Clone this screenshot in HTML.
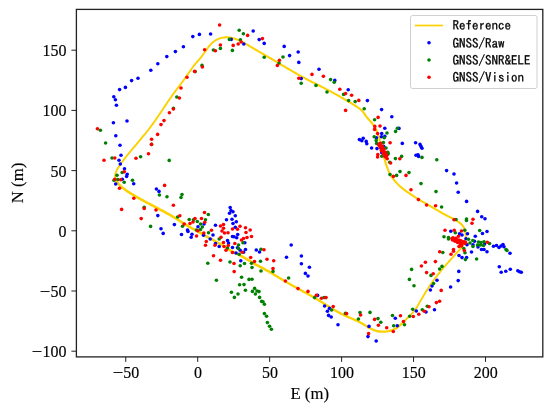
<!DOCTYPE html>
<html lang="en"><head><meta charset="utf-8"><title>GNSS trajectory plot</title>
<style>html,body{margin:0;padding:0;background:#fff}svg{display:block}</style>
</head><body>
<svg width="550" height="411" viewBox="0 0 550 411">
<rect width="550" height="411" fill="#fff"/>
<path d="M226.0 37.3 L223.8 37.5 L221.6 37.9 L219.4 38.5 L217.3 39.4 L215.4 40.5 L213.5 41.8 L211.8 43.2 L210.3 44.8 L208.8 46.5 L207.5 48.3 L206.2 50.2 L204.9 52.0 L203.6 53.8 L202.3 55.7 L201.0 57.4 L199.5 59.1 L198.0 60.8 L196.5 62.5 L195.1 64.2 L193.7 65.9 L192.4 67.7 L191.1 69.5 L189.8 71.4 L188.5 73.2 L187.2 75.1 L186.0 76.9 L184.7 78.7 L183.4 80.5 L182.0 82.3 L180.7 84.1 L179.3 85.9 L178.0 87.7 L176.6 89.5 L175.3 91.2 L174.0 93.0 L172.6 94.9 L171.4 96.7 L170.1 98.5 L168.8 100.4 L167.5 102.2 L166.3 104.1 L165.1 105.9 L163.8 107.8 L162.6 109.7 L161.3 111.5 L160.1 113.4 L158.8 115.2 L157.6 117.1 L156.3 118.9 L155.0 120.8 L153.7 122.6 L152.4 124.4 L151.1 126.2 L149.7 128.0 L148.4 129.8 L147.0 131.5 L145.6 133.3 L144.2 135.0 L142.7 136.7 L141.3 138.4 L139.9 140.2 L138.4 141.9 L137.0 143.6 L135.6 145.3 L134.1 147.0 L132.7 148.7 L131.2 150.5 L129.8 152.2 L128.4 153.9 L127.0 155.7 L125.6 157.4 L124.2 159.2 L122.9 161.0 L121.6 162.8 L120.3 164.6 L119.0 166.4 L117.8 168.3 L116.7 170.3 L115.8 172.4 L115.3 174.5 L115.2 176.8 L115.7 179.0 L116.5 181.0" fill="none" stroke="#fbd200" stroke-width="1.9" stroke-linejoin="round" stroke-linecap="round"/>
<path d="M116.5 181.0 L117.5 182.6 L118.7 184.1 L120.0 185.5 L121.5 186.9 L123.0 188.1 L124.6 189.3 L126.3 190.5 L127.9 191.6 L129.5 192.6 L131.2 193.7 L132.8 194.7 L134.4 195.7 L136.1 196.6 L137.8 197.6 L139.5 198.5 L141.2 199.5 L142.9 200.4 L144.6 201.3 L146.3 202.3 L148.0 203.2 L149.8 204.1 L151.5 205.0 L153.2 205.9 L155.0 206.8 L156.7 207.7 L158.4 208.6 L160.1 209.6 L161.9 210.5 L163.6 211.4 L165.3 212.3 L167.0 213.3 L168.7 214.2 L170.3 215.2 L172.0 216.2 L173.7 217.2 L175.3 218.2 L177.0 219.2 L178.6 220.2 L180.3 221.3 L181.9 222.3 L183.6 223.4 L185.3 224.4 L186.9 225.4 L188.6 226.4 L190.3 227.3 L192.0 228.3 L193.7 229.2 L195.4 230.1 L197.1 231.1 L198.8 232.0 L200.5 232.9 L202.2 233.9 L203.9 234.9 L205.6 235.8 L207.3 236.8 L209.0 237.8 L210.7 238.7 L212.4 239.7 L214.1 240.6 L215.8 241.6 L217.5 242.5 L219.2 243.5 L220.9 244.4 L222.6 245.4 L224.2 246.4 L225.9 247.5 L227.5 248.6 L229.1 249.7 L230.7 250.7 L232.4 251.7 L234.2 252.5 L235.9 253.4 L237.7 254.2 L239.4 255.1 L241.2 256.0 L242.9 256.9 L244.6 257.9 L246.2 258.9 L247.9 259.9 L249.6 260.9 L251.2 261.9 L252.9 262.8 L254.6 263.8 L256.3 264.8 L258.0 265.7 L259.7 266.6 L261.5 267.5 L263.2 268.4 L264.9 269.3 L266.6 270.3 L268.3 271.2 L270.0 272.2" fill="none" stroke="#fbd200" stroke-width="2.55" stroke-linejoin="round" stroke-linecap="round"/>
<path d="M270.0 272.2 L271.5 273.1 L273.0 274.0 L274.5 274.9 L276.0 275.8 L277.5 276.7 L278.9 277.6 L280.4 278.5 L281.9 279.4 L283.4 280.3 L284.9 281.2 L286.4 282.1 L287.9 283.0 L289.4 283.8 L290.9 284.7 L292.4 285.6 L293.9 286.4 L295.5 287.2 L297.0 288.1 L298.5 288.9 L300.1 289.7 L301.6 290.6 L303.1 291.4 L304.6 292.2 L306.2 293.1 L307.7 293.9 L309.2 294.8 L310.7 295.6 L312.2 296.5 L313.7 297.4 L315.2 298.2 L316.7 299.1 L318.2 300.0 L319.7 300.9 L321.2 301.8 L322.6 302.8 L324.1 303.7 L325.6 304.6 L327.1 305.5 L328.5 306.4 L330.0 307.4 L331.5 308.3 L333.0 309.2 L334.5 310.1 L336.0 310.9 L337.5 311.8 L339.0 312.6 L340.6 313.4 L342.1 314.2 L343.7 315.0 L345.2 315.7 L346.8 316.4 L348.4 317.1 L350.0 317.8 L351.6 318.5 L353.3 319.2 L354.9 319.9 L356.4 320.6 L358.0 321.3 L359.6 322.1 L361.1 323.0 L362.6 323.8 L364.1 324.7 L365.5 325.6 L367.0 326.5 L368.5 327.4 L370.1 328.3 L371.6 329.0 L373.2 329.8 L374.8 330.4 L376.5 330.9 L378.1 331.3 L379.9 331.5 L381.6 331.7 L383.4 331.7 L385.1 331.6 L386.9 331.4 L388.6 331.1 L390.3 330.6 L391.9 330.1 L393.5 329.5 L395.1 328.7 L396.6 327.9 L398.0 326.9 L399.4 325.9 L400.7 324.7 L402.0 323.5" fill="none" stroke="#fbd200" stroke-width="2.3" stroke-linejoin="round" stroke-linecap="round"/>
<path d="M402.0 323.5 L403.4 322.2 L404.7 320.8 L406.0 319.5 L407.3 318.2 L408.6 316.8 L410.0 315.5 L411.3 314.2 L412.6 312.8 L413.8 311.4 L415.0 309.9 L416.1 308.4 L417.1 306.8 L418.0 305.2 L418.9 303.6 L419.9 301.9 L420.8 300.3 L421.8 298.7 L422.7 297.1 L423.7 295.4 L424.7 293.8 L425.6 292.2 L426.6 290.6 L427.7 289.1 L428.7 287.5 L429.7 285.9 L430.8 284.4 L431.9 282.8 L432.9 281.3 L434.0 279.8 L435.2 278.2 L436.3 276.7 L437.4 275.2 L438.6 273.8 L439.8 272.3 L440.9 270.8 L442.1 269.4 L443.3 267.9 L444.6 266.5 L445.8 265.1 L447.0 263.7 L448.3 262.3 L449.5 260.9 L450.8 259.5 L452.0 258.1 L453.3 256.7 L454.6 255.4 L455.8 254.0 L457.1 252.6 L458.4 251.1 L459.7 249.7 L460.9 248.3 L462.0 246.7 L463.1 245.2 L464.0 243.6 L464.7 241.9 L465.3 240.1 L465.6 238.3 L465.8 236.4 L465.7 234.5" fill="none" stroke="#fbd200" stroke-width="1.9" stroke-linejoin="round" stroke-linecap="round"/>
<path d="M465.7 234.5 L465.5 232.7 L465.1 231.0 L464.6 229.2 L463.9 227.6 L462.9 226.1 L461.8 224.7 L460.5 223.5 L459.1 222.4 L457.7 221.4 L456.1 220.5 L454.6 219.6 L453.0 218.7 L451.5 217.9 L449.9 217.1 L448.3 216.3 L446.7 215.5 L445.1 214.7 L443.5 213.8 L441.9 212.9 L440.4 212.0 L438.8 211.1 L437.3 210.2 L435.7 209.3 L434.2 208.4 L432.7 207.5 L431.1 206.6 L429.6 205.7 L428.0 204.9 L426.5 204.0 L425.0 203.1 L423.4 202.2 L421.9 201.3 L420.4 200.3 L418.8 199.4 L417.3 198.5 L415.8 197.6 L414.3 196.6 L412.8 195.6 L411.3 194.7 L409.8 193.7 L408.3 192.7 L406.8 191.6 L405.4 190.6 L403.9 189.5 L402.5 188.4 L401.1 187.2 L399.8 186.1 L398.5 184.9 L397.2 183.6 L396.0 182.3 L394.8 181.0 L393.7 179.6 L392.6 178.2 L391.7 176.7 L390.7 175.2 L389.9 173.7 L389.1 172.1 L388.3 170.4 L387.6 168.7 L387.0 167.1 L386.4 165.4 L385.8 163.6 L385.3 161.9 L384.8 160.2 L384.3 158.5 L383.8 156.8 L383.4 155.1 L382.9 153.4 L382.5 151.6 L382.1 149.9 L381.7 148.2 L381.3 146.4 L380.9 144.7 L380.5 142.9 L380.0 141.2 L379.6 139.5 L379.1 137.7 L378.6 136.0 L378.0 134.3 L377.4 132.6 L376.7 131.0 L376.0 129.4 L375.2 127.8 L374.3 126.3 L373.3 124.8 L372.2 123.4 L371.1 122.0 L369.9 120.7 L368.6 119.4 L367.5 118.0 L366.3 116.6 L365.3 115.1 L364.3 113.6 L363.2 112.2 L362.1 110.8 L360.8 109.6 L359.4 108.5 L358.0 107.5 L356.5 106.5 L355.0 105.6 L353.4 104.6 L351.9 103.7 L350.4 102.7 L348.8 101.8 L347.3 100.9 L345.8 100.0 L344.2 99.1 L342.7 98.2 L341.1 97.3 L339.6 96.4 L338.0 95.5 L336.5 94.7 L334.9 93.8 L333.3 92.9 L331.8 92.1 L330.2 91.2 L328.6 90.4 L327.0 89.6 L325.5 88.8 L323.9 87.9 L322.3 87.1 L320.7 86.3 L319.1 85.5 L317.5 84.7 L315.9 83.9 L314.3 83.1 L312.7 82.3 L311.1 81.5 L309.5 80.7 L307.9 79.8 L306.4 79.0 L304.8 78.2 L303.2 77.3 L301.6 76.5 L300.1 75.6 L298.5 74.8 L296.9 73.9 L295.4 73.0 L293.8 72.1 L292.3 71.2 L290.8 70.3 L289.2 69.4 L287.7 68.5 L286.1 67.6 L284.6 66.7 L283.1 65.8 L281.5 64.8 L280.0 63.9 L278.5 63.0 L276.9 62.1 L275.4 61.2 L273.9 60.3 L272.3 59.4 L270.8 58.5 L269.2 57.6 L267.7 56.7 L266.1 55.8 L264.6 54.9 L263.1 54.0 L261.5 53.1 L260.0 52.2 L258.4 51.3 L256.9 50.4 L255.3 49.5 L253.8 48.6 L252.3 47.7 L250.7 46.8 L249.2 45.9 L247.7 44.9 L246.1 44.1 L244.6 43.2 L243.0 42.3 L241.4 41.5 L239.8 40.8 L238.1 40.0 L236.5 39.4 L234.8 38.8 L233.0 38.3 L231.3 37.8 L229.6 37.5 L227.8 37.3 L226.0 37.3" fill="none" stroke="#fbd200" stroke-width="2.05" stroke-linejoin="round" stroke-linecap="round"/>
<g fill="#0000ff"><circle cx="391.8" cy="116.8" r="1.8"/><circle cx="384.8" cy="128.3" r="1.8"/><circle cx="399.0" cy="128.4" r="1.8"/><circle cx="381.7" cy="133.6" r="1.8"/><circle cx="384.8" cy="136.4" r="1.8"/><circle cx="381.4" cy="136.8" r="1.8"/><circle cx="376.4" cy="137.8" r="1.8"/><circle cx="359.4" cy="139.6" r="1.8"/><circle cx="363.2" cy="138.2" r="1.8"/><circle cx="361.8" cy="140.8" r="1.8"/><circle cx="366.2" cy="141.4" r="1.8"/><circle cx="366.8" cy="143.8" r="1.8"/><circle cx="371.6" cy="148.0" r="1.8"/><circle cx="402.3" cy="143.4" r="1.8"/><circle cx="383.6" cy="146.2" r="1.8"/><circle cx="377.0" cy="148.6" r="1.8"/><circle cx="381.8" cy="152.8" r="1.8"/><circle cx="121.0" cy="155.2" r="1.8"/><circle cx="119.0" cy="160.3" r="1.8"/><circle cx="120.3" cy="164.0" r="1.8"/><circle cx="124.5" cy="168.8" r="1.8"/><circle cx="127.2" cy="174.3" r="1.8"/><circle cx="126.6" cy="176.5" r="1.8"/><circle cx="122.3" cy="179.3" r="1.8"/><circle cx="115.7" cy="184.0" r="1.8"/><circle cx="133.7" cy="183.8" r="1.8"/><circle cx="230.2" cy="207.5" r="1.8"/><circle cx="231.0" cy="210.5" r="1.8"/><circle cx="229.5" cy="213.3" r="1.8"/><circle cx="226.5" cy="219.7" r="1.8"/><circle cx="232.0" cy="219.3" r="1.8"/><circle cx="215.5" cy="225.3" r="1.8"/><circle cx="187.5" cy="230.0" r="1.8"/><circle cx="188.0" cy="231.5" r="1.8"/><circle cx="198.0" cy="226.8" r="1.8"/><circle cx="204.0" cy="224.0" r="1.8"/><circle cx="181.5" cy="234.5" r="1.8"/><circle cx="192.0" cy="234.2" r="1.8"/><circle cx="191.2" cy="237.3" r="1.8"/><circle cx="213.0" cy="235.0" r="1.8"/><circle cx="203.5" cy="235.2" r="1.8"/><circle cx="210.2" cy="239.0" r="1.8"/><circle cx="227.5" cy="240.5" r="1.8"/><circle cx="228.5" cy="243.0" r="1.8"/><circle cx="215.5" cy="243.5" r="1.8"/><circle cx="219.2" cy="246.5" r="1.8"/><circle cx="232.5" cy="236.5" r="1.8"/><circle cx="232.5" cy="247.5" r="1.8"/><circle cx="233.0" cy="211.8" r="1.8"/><circle cx="235.3" cy="215.8" r="1.8"/><circle cx="236.3" cy="221.8" r="1.8"/><circle cx="233.0" cy="223.5" r="1.8"/><circle cx="235.3" cy="227.2" r="1.8"/><circle cx="237.7" cy="234.5" r="1.8"/><circle cx="234.0" cy="236.8" r="1.8"/><circle cx="236.7" cy="237.7" r="1.8"/><circle cx="244.8" cy="242.7" r="1.8"/><circle cx="237.5" cy="247.8" r="1.8"/><circle cx="240.2" cy="250.2" r="1.8"/><circle cx="245.5" cy="249.5" r="1.8"/><circle cx="236.0" cy="253.0" r="1.8"/><circle cx="243.5" cy="252.3" r="1.8"/><circle cx="256.3" cy="250.0" r="1.8"/><circle cx="259.5" cy="252.0" r="1.8"/><circle cx="240.8" cy="260.8" r="1.8"/><circle cx="286.5" cy="257.3" r="1.8"/><circle cx="481.7" cy="216.7" r="1.8"/><circle cx="485.0" cy="218.7" r="1.8"/><circle cx="487.0" cy="231.5" r="1.8"/><circle cx="482.5" cy="233.5" r="1.8"/><circle cx="475.3" cy="236.3" r="1.8"/><circle cx="467.5" cy="233.7" r="1.8"/><circle cx="450.8" cy="231.3" r="1.8"/><circle cx="459.5" cy="233.8" r="1.8"/><circle cx="462.0" cy="235.0" r="1.8"/><circle cx="466.0" cy="238.7" r="1.8"/><circle cx="474.5" cy="241.2" r="1.8"/><circle cx="467.0" cy="244.8" r="1.8"/><circle cx="473.0" cy="244.8" r="1.8"/><circle cx="478.0" cy="247.0" r="1.8"/><circle cx="481.5" cy="249.5" r="1.8"/><circle cx="484.0" cy="249.5" r="1.8"/><circle cx="487.0" cy="251.7" r="1.8"/><circle cx="471.5" cy="252.0" r="1.8"/><circle cx="459.0" cy="255.5" r="1.8"/><circle cx="484.5" cy="244.0" r="1.8"/><circle cx="493.5" cy="246.3" r="1.8"/><circle cx="496.5" cy="245.5" r="1.8"/><circle cx="499.0" cy="247.5" r="1.8"/><circle cx="501.0" cy="246.0" r="1.8"/><circle cx="503.0" cy="244.5" r="1.8"/><circle cx="504.0" cy="246.8" r="1.8"/><circle cx="510.0" cy="253.3" r="1.8"/><circle cx="499.3" cy="266.8" r="1.8"/><circle cx="501.2" cy="272.3" r="1.8"/><circle cx="505.8" cy="271.3" r="1.8"/><circle cx="510.3" cy="269.3" r="1.8"/><circle cx="517.8" cy="270.7" r="1.8"/><circle cx="519.5" cy="271.7" r="1.8"/><circle cx="521.3" cy="272.3" r="1.8"/><circle cx="395.3" cy="318.2" r="1.8"/><circle cx="397.3" cy="325.7" r="1.8"/><circle cx="416.3" cy="311.0" r="1.8"/><circle cx="426.0" cy="312.0" r="1.8"/><circle cx="434.5" cy="309.7" r="1.8"/><circle cx="175.4" cy="51.6" r="1.8"/><circle cx="166.8" cy="56.6" r="1.8"/><circle cx="157.8" cy="63.8" r="1.8"/><circle cx="150.8" cy="70.2" r="1.8"/><circle cx="138.0" cy="78.2" r="1.8"/><circle cx="131.6" cy="80.6" r="1.8"/><circle cx="125.4" cy="87.4" r="1.8"/><circle cx="119.6" cy="89.6" r="1.8"/><circle cx="183.4" cy="46.8" r="1.8"/><circle cx="192.8" cy="36.6" r="1.8"/><circle cx="199.4" cy="34.4" r="1.8"/><circle cx="210.6" cy="34.0" r="1.8"/><circle cx="231.2" cy="39.4" r="1.8"/><circle cx="243.8" cy="44.0" r="1.8"/><circle cx="253.2" cy="31.0" r="1.8"/><circle cx="259.2" cy="39.6" r="1.8"/><circle cx="264.2" cy="43.4" r="1.8"/><circle cx="284.2" cy="46.4" r="1.8"/><circle cx="289.6" cy="55.6" r="1.8"/><circle cx="298.2" cy="52.0" r="1.8"/><circle cx="298.8" cy="62.4" r="1.8"/><circle cx="319.0" cy="69.2" r="1.8"/><circle cx="301.2" cy="78.6" r="1.8"/><circle cx="334.8" cy="80.4" r="1.8"/><circle cx="348.2" cy="89.8" r="1.8"/><circle cx="113.8" cy="96.8" r="1.8"/><circle cx="115.4" cy="99.8" r="1.8"/><circle cx="116.4" cy="105.2" r="1.8"/><circle cx="113.4" cy="122.8" r="1.8"/><circle cx="127.0" cy="121.0" r="1.8"/><circle cx="115.8" cy="135.8" r="1.8"/><circle cx="120.0" cy="145.2" r="1.8"/><circle cx="367.4" cy="100.6" r="1.8"/><circle cx="381.6" cy="109.6" r="1.8"/><circle cx="415.6" cy="142.8" r="1.8"/><circle cx="420.0" cy="144.4" r="1.8"/><circle cx="421.0" cy="146.4" r="1.8"/><circle cx="422.0" cy="148.2" r="1.8"/><circle cx="416.0" cy="155.2" r="1.8"/><circle cx="418.0" cy="154.8" r="1.8"/><circle cx="418.6" cy="156.4" r="1.8"/><circle cx="156.4" cy="189.0" r="1.8"/><circle cx="159.0" cy="191.4" r="1.8"/><circle cx="157.8" cy="215.6" r="1.8"/><circle cx="174.4" cy="224.6" r="1.8"/><circle cx="161.0" cy="228.8" r="1.8"/><circle cx="163.2" cy="233.4" r="1.8"/><circle cx="291.2" cy="245.0" r="1.8"/><circle cx="446.6" cy="170.6" r="1.8"/><circle cx="454.0" cy="174.0" r="1.8"/><circle cx="456.6" cy="183.0" r="1.8"/><circle cx="458.2" cy="192.2" r="1.8"/><circle cx="466.6" cy="201.4" r="1.8"/><circle cx="477.6" cy="211.4" r="1.8"/><circle cx="301.4" cy="256.0" r="1.8"/><circle cx="301.4" cy="263.8" r="1.8"/><circle cx="309.4" cy="267.2" r="1.8"/><circle cx="305.4" cy="273.4" r="1.8"/><circle cx="308.0" cy="276.0" r="1.8"/><circle cx="317.6" cy="295.4" r="1.8"/><circle cx="324.6" cy="306.0" r="1.8"/><circle cx="327.4" cy="311.2" r="1.8"/><circle cx="329.4" cy="308.4" r="1.8"/><circle cx="328.6" cy="315.4" r="1.8"/><circle cx="331.2" cy="317.0" r="1.8"/><circle cx="338.0" cy="324.8" r="1.8"/><circle cx="369.0" cy="326.4" r="1.8"/><circle cx="368.0" cy="336.6" r="1.8"/><circle cx="462.0" cy="257.6" r="1.8"/><circle cx="466.6" cy="257.6" r="1.8"/><circle cx="458.8" cy="271.4" r="1.8"/><circle cx="458.2" cy="280.6" r="1.8"/><circle cx="450.6" cy="287.0" r="1.8"/><circle cx="437.0" cy="280.2" r="1.8"/><circle cx="432.0" cy="286.0" r="1.8"/><circle cx="430.4" cy="290.0" r="1.8"/><circle cx="376.2" cy="341.0" r="1.8"/></g>
<g fill="#008000"><circle cx="374.6" cy="119.8" r="1.8"/><circle cx="397.4" cy="128.2" r="1.8"/><circle cx="395.6" cy="131.4" r="1.8"/><circle cx="387.0" cy="133.0" r="1.8"/><circle cx="374.2" cy="136.8" r="1.8"/><circle cx="384.2" cy="137.8" r="1.8"/><circle cx="376.2" cy="140.4" r="1.8"/><circle cx="376.6" cy="143.4" r="1.8"/><circle cx="383.4" cy="142.6" r="1.8"/><circle cx="386.0" cy="148.0" r="1.8"/><circle cx="387.8" cy="152.2" r="1.8"/><circle cx="388.2" cy="154.0" r="1.8"/><circle cx="381.8" cy="156.2" r="1.8"/><circle cx="395.4" cy="158.6" r="1.8"/><circle cx="401.6" cy="156.4" r="1.8"/><circle cx="112.0" cy="158.0" r="1.8"/><circle cx="140.6" cy="156.8" r="1.8"/><circle cx="122.2" cy="172.5" r="1.8"/><circle cx="117.0" cy="175.3" r="1.8"/><circle cx="117.8" cy="179.5" r="1.8"/><circle cx="114.0" cy="180.3" r="1.8"/><circle cx="132.5" cy="180.3" r="1.8"/><circle cx="124.2" cy="182.3" r="1.8"/><circle cx="181.0" cy="197.5" r="1.8"/><circle cx="208.3" cy="214.5" r="1.8"/><circle cx="205.5" cy="219.7" r="1.8"/><circle cx="189.2" cy="219.5" r="1.8"/><circle cx="193.5" cy="219.8" r="1.8"/><circle cx="197.3" cy="221.5" r="1.8"/><circle cx="200.5" cy="224.0" r="1.8"/><circle cx="182.5" cy="226.3" r="1.8"/><circle cx="202.3" cy="227.0" r="1.8"/><circle cx="200.5" cy="229.5" r="1.8"/><circle cx="196.5" cy="230.0" r="1.8"/><circle cx="208.5" cy="232.8" r="1.8"/><circle cx="219.2" cy="239.0" r="1.8"/><circle cx="227.5" cy="248.0" r="1.8"/><circle cx="230.0" cy="262.0" r="1.8"/><circle cx="207.8" cy="263.2" r="1.8"/><circle cx="243.0" cy="242.7" r="1.8"/><circle cx="238.5" cy="245.0" r="1.8"/><circle cx="238.5" cy="248.5" r="1.8"/><circle cx="261.0" cy="249.2" r="1.8"/><circle cx="239.2" cy="254.2" r="1.8"/><circle cx="260.5" cy="261.3" r="1.8"/><circle cx="244.5" cy="263.5" r="1.8"/><circle cx="251.5" cy="263.2" r="1.8"/><circle cx="240.2" cy="265.8" r="1.8"/><circle cx="252.0" cy="267.5" r="1.8"/><circle cx="466.5" cy="219.0" r="1.8"/><circle cx="466.5" cy="220.5" r="1.8"/><circle cx="456.0" cy="219.5" r="1.8"/><circle cx="479.7" cy="230.5" r="1.8"/><circle cx="464.8" cy="230.3" r="1.8"/><circle cx="455.3" cy="232.7" r="1.8"/><circle cx="444.0" cy="236.8" r="1.8"/><circle cx="448.5" cy="237.5" r="1.8"/><circle cx="448.5" cy="239.0" r="1.8"/><circle cx="468.5" cy="239.3" r="1.8"/><circle cx="472.8" cy="240.5" r="1.8"/><circle cx="470.0" cy="243.0" r="1.8"/><circle cx="473.0" cy="246.5" r="1.8"/><circle cx="478.5" cy="242.0" r="1.8"/><circle cx="481.0" cy="242.5" r="1.8"/><circle cx="484.0" cy="241.8" r="1.8"/><circle cx="477.5" cy="245.0" r="1.8"/><circle cx="480.5" cy="245.0" r="1.8"/><circle cx="483.5" cy="245.5" r="1.8"/><circle cx="463.8" cy="248.5" r="1.8"/><circle cx="442.8" cy="252.5" r="1.8"/><circle cx="465.0" cy="252.8" r="1.8"/><circle cx="489.5" cy="243.5" r="1.8"/><circle cx="506.0" cy="249.5" r="1.8"/><circle cx="507.0" cy="250.5" r="1.8"/><circle cx="392.5" cy="315.5" r="1.8"/><circle cx="380.8" cy="322.2" r="1.8"/><circle cx="393.7" cy="325.7" r="1.8"/><circle cx="404.5" cy="324.8" r="1.8"/><circle cx="409.7" cy="316.2" r="1.8"/><circle cx="412.7" cy="309.2" r="1.8"/><circle cx="422.3" cy="309.8" r="1.8"/><circle cx="427.3" cy="306.3" r="1.8"/><circle cx="239.2" cy="30.2" r="1.8"/><circle cx="243.4" cy="33.8" r="1.8"/><circle cx="229.4" cy="39.4" r="1.8"/><circle cx="240.4" cy="39.8" r="1.8"/><circle cx="232.4" cy="50.4" r="1.8"/><circle cx="220.4" cy="48.4" r="1.8"/><circle cx="213.4" cy="50.0" r="1.8"/><circle cx="202.0" cy="65.4" r="1.8"/><circle cx="264.2" cy="57.2" r="1.8"/><circle cx="283.0" cy="57.0" r="1.8"/><circle cx="279.0" cy="63.0" r="1.8"/><circle cx="195.2" cy="71.6" r="1.8"/><circle cx="301.2" cy="83.2" r="1.8"/><circle cx="316.0" cy="85.4" r="1.8"/><circle cx="330.6" cy="79.6" r="1.8"/><circle cx="334.2" cy="82.2" r="1.8"/><circle cx="327.0" cy="92.0" r="1.8"/><circle cx="100.4" cy="130.2" r="1.8"/><circle cx="105.6" cy="143.0" r="1.8"/><circle cx="169.2" cy="160.4" r="1.8"/><circle cx="176.8" cy="97.0" r="1.8"/><circle cx="173.4" cy="108.4" r="1.8"/><circle cx="151.6" cy="144.4" r="1.8"/><circle cx="343.6" cy="94.4" r="1.8"/><circle cx="348.6" cy="100.6" r="1.8"/><circle cx="355.2" cy="101.6" r="1.8"/><circle cx="364.2" cy="108.8" r="1.8"/><circle cx="422.0" cy="157.4" r="1.8"/><circle cx="436.8" cy="159.8" r="1.8"/><circle cx="159.4" cy="195.0" r="1.8"/><circle cx="167.0" cy="196.8" r="1.8"/><circle cx="144.2" cy="207.2" r="1.8"/><circle cx="150.6" cy="226.4" r="1.8"/><circle cx="177.6" cy="217.0" r="1.8"/><circle cx="400.0" cy="171.6" r="1.8"/><circle cx="409.0" cy="172.6" r="1.8"/><circle cx="396.6" cy="175.4" r="1.8"/><circle cx="390.0" cy="174.6" r="1.8"/><circle cx="421.0" cy="183.6" r="1.8"/><circle cx="436.0" cy="191.6" r="1.8"/><circle cx="441.6" cy="207.0" r="1.8"/><circle cx="216.4" cy="280.2" r="1.8"/><circle cx="241.6" cy="277.2" r="1.8"/><circle cx="249.0" cy="279.4" r="1.8"/><circle cx="252.0" cy="279.2" r="1.8"/><circle cx="239.6" cy="284.8" r="1.8"/><circle cx="244.0" cy="284.6" r="1.8"/><circle cx="245.4" cy="290.2" r="1.8"/><circle cx="231.4" cy="292.2" r="1.8"/><circle cx="238.0" cy="294.0" r="1.8"/><circle cx="234.4" cy="297.4" r="1.8"/><circle cx="254.6" cy="288.4" r="1.8"/><circle cx="252.4" cy="291.4" r="1.8"/><circle cx="257.0" cy="291.0" r="1.8"/><circle cx="259.0" cy="291.6" r="1.8"/><circle cx="255.4" cy="294.0" r="1.8"/><circle cx="259.6" cy="297.4" r="1.8"/><circle cx="261.6" cy="301.4" r="1.8"/><circle cx="263.0" cy="301.8" r="1.8"/><circle cx="264.4" cy="304.2" r="1.8"/><circle cx="264.4" cy="313.6" r="1.8"/><circle cx="266.6" cy="316.2" r="1.8"/><circle cx="267.4" cy="322.6" r="1.8"/><circle cx="269.6" cy="326.2" r="1.8"/><circle cx="271.4" cy="329.2" r="1.8"/><circle cx="261.0" cy="271.0" r="1.8"/><circle cx="273.0" cy="271.4" r="1.8"/><circle cx="288.6" cy="278.0" r="1.8"/><circle cx="314.6" cy="297.6" r="1.8"/><circle cx="324.0" cy="297.6" r="1.8"/><circle cx="331.6" cy="310.0" r="1.8"/><circle cx="345.4" cy="313.4" r="1.8"/><circle cx="360.0" cy="312.6" r="1.8"/><circle cx="358.4" cy="319.0" r="1.8"/><circle cx="370.0" cy="312.4" r="1.8"/><circle cx="378.0" cy="318.6" r="1.8"/><circle cx="465.4" cy="259.6" r="1.8"/><circle cx="476.6" cy="259.0" r="1.8"/><circle cx="411.6" cy="269.4" r="1.8"/><circle cx="442.0" cy="266.4" r="1.8"/><circle cx="439.6" cy="269.0" r="1.8"/><circle cx="431.0" cy="275.4" r="1.8"/><circle cx="409.4" cy="279.4" r="1.8"/><circle cx="414.0" cy="285.8" r="1.8"/><circle cx="433.6" cy="283.6" r="1.8"/><circle cx="182.0" cy="194.5" r="1.8"/><circle cx="389.7" cy="162.3" r="1.8"/></g>
<g fill="#ff0000"><circle cx="378.1" cy="117.4" r="1.8"/><circle cx="380.0" cy="126.0" r="1.8"/><circle cx="374.8" cy="126.4" r="1.8"/><circle cx="374.6" cy="129.4" r="1.8"/><circle cx="377.6" cy="133.6" r="1.8"/><circle cx="390.1" cy="142.7" r="1.8"/><circle cx="379.4" cy="143.8" r="1.8"/><circle cx="380.0" cy="146.2" r="1.8"/><circle cx="380.6" cy="148.0" r="1.8"/><circle cx="381.4" cy="150.4" r="1.8"/><circle cx="383.0" cy="152.2" r="1.8"/><circle cx="384.8" cy="154.6" r="1.8"/><circle cx="386.0" cy="157.0" r="1.8"/><circle cx="387.2" cy="158.8" r="1.8"/><circle cx="377.8" cy="154.6" r="1.8"/><circle cx="377.6" cy="157.0" r="1.8"/><circle cx="399.8" cy="158.8" r="1.8"/><circle cx="378.8" cy="145.0" r="1.8"/><circle cx="382.2" cy="148.6" r="1.8"/><circle cx="383.8" cy="153.4" r="1.8"/><circle cx="385.5" cy="155.8" r="1.8"/><circle cx="380.8" cy="143.4" r="1.8"/><circle cx="382.4" cy="146.4" r="1.8"/><circle cx="383.8" cy="149.4" r="1.8"/><circle cx="385.4" cy="152.4" r="1.8"/><circle cx="386.8" cy="155.4" r="1.8"/><circle cx="379.0" cy="144.5" r="1.8"/><circle cx="380.6" cy="147.5" r="1.8"/><circle cx="382.0" cy="150.5" r="1.8"/><circle cx="383.6" cy="153.5" r="1.8"/><circle cx="385.0" cy="156.5" r="1.8"/><circle cx="104.0" cy="160.3" r="1.8"/><circle cx="114.8" cy="158.0" r="1.8"/><circle cx="136.0" cy="158.2" r="1.8"/><circle cx="148.5" cy="153.7" r="1.8"/><circle cx="124.3" cy="171.7" r="1.8"/><circle cx="114.8" cy="179.3" r="1.8"/><circle cx="120.7" cy="179.7" r="1.8"/><circle cx="119.5" cy="188.3" r="1.8"/><circle cx="204.5" cy="212.5" r="1.8"/><circle cx="179.8" cy="215.7" r="1.8"/><circle cx="201.5" cy="218.5" r="1.8"/><circle cx="195.0" cy="218.5" r="1.8"/><circle cx="204.7" cy="222.3" r="1.8"/><circle cx="193.0" cy="222.0" r="1.8"/><circle cx="190.0" cy="223.5" r="1.8"/><circle cx="184.2" cy="224.0" r="1.8"/><circle cx="223.5" cy="224.5" r="1.8"/><circle cx="220.5" cy="226.0" r="1.8"/><circle cx="223.5" cy="228.3" r="1.8"/><circle cx="222.0" cy="231.0" r="1.8"/><circle cx="211.5" cy="230.3" r="1.8"/><circle cx="197.8" cy="230.7" r="1.8"/><circle cx="224.5" cy="233.0" r="1.8"/><circle cx="228.0" cy="232.8" r="1.8"/><circle cx="203.8" cy="233.0" r="1.8"/><circle cx="232.5" cy="229.0" r="1.8"/><circle cx="196.5" cy="236.0" r="1.8"/><circle cx="221.0" cy="237.3" r="1.8"/><circle cx="206.3" cy="241.5" r="1.8"/><circle cx="205.5" cy="245.3" r="1.8"/><circle cx="215.0" cy="245.2" r="1.8"/><circle cx="223.5" cy="242.5" r="1.8"/><circle cx="224.0" cy="246.5" r="1.8"/><circle cx="228.3" cy="245.5" r="1.8"/><circle cx="226.0" cy="250.2" r="1.8"/><circle cx="213.5" cy="255.8" r="1.8"/><circle cx="220.5" cy="260.2" r="1.8"/><circle cx="232.5" cy="252.5" r="1.8"/><circle cx="240.0" cy="226.3" r="1.8"/><circle cx="237.5" cy="229.3" r="1.8"/><circle cx="245.5" cy="227.8" r="1.8"/><circle cx="250.2" cy="230.0" r="1.8"/><circle cx="246.0" cy="232.5" r="1.8"/><circle cx="251.5" cy="236.5" r="1.8"/><circle cx="247.0" cy="237.5" r="1.8"/><circle cx="243.5" cy="238.5" r="1.8"/><circle cx="241.5" cy="240.0" r="1.8"/><circle cx="234.8" cy="243.5" r="1.8"/><circle cx="264.0" cy="249.7" r="1.8"/><circle cx="242.2" cy="252.3" r="1.8"/><circle cx="250.7" cy="257.5" r="1.8"/><circle cx="254.5" cy="261.5" r="1.8"/><circle cx="267.0" cy="259.3" r="1.8"/><circle cx="273.7" cy="260.8" r="1.8"/><circle cx="234.0" cy="263.5" r="1.8"/><circle cx="273.0" cy="268.5" r="1.8"/><circle cx="454.0" cy="219.8" r="1.8"/><circle cx="473.0" cy="219.2" r="1.8"/><circle cx="472.0" cy="223.3" r="1.8"/><circle cx="445.0" cy="230.3" r="1.8"/><circle cx="454.2" cy="230.2" r="1.8"/><circle cx="461.5" cy="231.0" r="1.8"/><circle cx="458.5" cy="236.3" r="1.8"/><circle cx="487.3" cy="242.2" r="1.8"/><circle cx="452.0" cy="238.5" r="1.8"/><circle cx="453.5" cy="239.5" r="1.8"/><circle cx="455.0" cy="239.0" r="1.8"/><circle cx="456.5" cy="240.5" r="1.8"/><circle cx="458.0" cy="240.0" r="1.8"/><circle cx="459.5" cy="241.2" r="1.8"/><circle cx="461.0" cy="240.8" r="1.8"/><circle cx="462.5" cy="242.0" r="1.8"/><circle cx="464.0" cy="241.8" r="1.8"/><circle cx="465.5" cy="242.5" r="1.8"/><circle cx="455.0" cy="241.2" r="1.8"/><circle cx="457.5" cy="242.5" r="1.8"/><circle cx="460.0" cy="243.5" r="1.8"/><circle cx="462.0" cy="244.0" r="1.8"/><circle cx="453.0" cy="237.8" r="1.8"/><circle cx="456.0" cy="238.2" r="1.8"/><circle cx="459.5" cy="240.2" r="1.8"/><circle cx="465.0" cy="243.5" r="1.8"/><circle cx="452.5" cy="240.0" r="1.8"/><circle cx="459.0" cy="246.5" r="1.8"/><circle cx="461.5" cy="246.0" r="1.8"/><circle cx="453.5" cy="249.5" r="1.8"/><circle cx="453.5" cy="251.2" r="1.8"/><circle cx="464.3" cy="250.5" r="1.8"/><circle cx="439.7" cy="251.8" r="1.8"/><circle cx="451.0" cy="254.2" r="1.8"/><circle cx="400.5" cy="315.8" r="1.8"/><circle cx="386.7" cy="327.7" r="1.8"/><circle cx="393.3" cy="331.5" r="1.8"/><circle cx="403.5" cy="321.5" r="1.8"/><circle cx="413.3" cy="316.5" r="1.8"/><circle cx="418.8" cy="314.3" r="1.8"/><circle cx="424.3" cy="311.3" r="1.8"/><circle cx="429.0" cy="306.8" r="1.8"/><circle cx="219.6" cy="25.0" r="1.8"/><circle cx="247.6" cy="35.4" r="1.8"/><circle cx="262.4" cy="38.6" r="1.8"/><circle cx="241.2" cy="42.0" r="1.8"/><circle cx="238.2" cy="44.0" r="1.8"/><circle cx="233.2" cy="45.4" r="1.8"/><circle cx="220.4" cy="45.0" r="1.8"/><circle cx="215.4" cy="50.8" r="1.8"/><circle cx="204.6" cy="49.8" r="1.8"/><circle cx="202.4" cy="67.0" r="1.8"/><circle cx="194.6" cy="71.4" r="1.8"/><circle cx="187.0" cy="77.2" r="1.8"/><circle cx="181.0" cy="88.0" r="1.8"/><circle cx="279.4" cy="60.2" r="1.8"/><circle cx="277.4" cy="65.4" r="1.8"/><circle cx="298.8" cy="78.2" r="1.8"/><circle cx="312.0" cy="74.4" r="1.8"/><circle cx="323.4" cy="76.2" r="1.8"/><circle cx="339.8" cy="89.2" r="1.8"/><circle cx="97.4" cy="128.8" r="1.8"/><circle cx="151.4" cy="144.4" r="1.8"/><circle cx="151.6" cy="139.2" r="1.8"/><circle cx="157.6" cy="134.4" r="1.8"/><circle cx="161.0" cy="124.6" r="1.8"/><circle cx="164.0" cy="120.6" r="1.8"/><circle cx="169.4" cy="112.8" r="1.8"/><circle cx="173.4" cy="109.0" r="1.8"/><circle cx="179.4" cy="98.0" r="1.8"/><circle cx="345.6" cy="93.6" r="1.8"/><circle cx="351.6" cy="95.2" r="1.8"/><circle cx="358.8" cy="100.4" r="1.8"/><circle cx="345.6" cy="110.4" r="1.8"/><circle cx="390.6" cy="163.0" r="1.8"/><circle cx="133.8" cy="198.2" r="1.8"/><circle cx="121.6" cy="209.4" r="1.8"/><circle cx="144.2" cy="208.4" r="1.8"/><circle cx="141.2" cy="218.6" r="1.8"/><circle cx="156.0" cy="210.0" r="1.8"/><circle cx="164.6" cy="185.4" r="1.8"/><circle cx="173.4" cy="205.2" r="1.8"/><circle cx="406.0" cy="175.4" r="1.8"/><circle cx="393.4" cy="176.4" r="1.8"/><circle cx="411.0" cy="189.8" r="1.8"/><circle cx="418.4" cy="199.6" r="1.8"/><circle cx="426.6" cy="205.0" r="1.8"/><circle cx="435.6" cy="205.8" r="1.8"/><circle cx="234.2" cy="271.6" r="1.8"/><circle cx="285.4" cy="281.0" r="1.8"/><circle cx="298.0" cy="288.6" r="1.8"/><circle cx="308.0" cy="291.4" r="1.8"/><circle cx="316.4" cy="295.2" r="1.8"/><circle cx="321.4" cy="298.2" r="1.8"/><circle cx="326.0" cy="297.6" r="1.8"/><circle cx="333.2" cy="306.6" r="1.8"/><circle cx="346.6" cy="313.6" r="1.8"/><circle cx="360.6" cy="315.0" r="1.8"/><circle cx="374.6" cy="319.4" r="1.8"/><circle cx="378.4" cy="325.2" r="1.8"/><circle cx="368.6" cy="333.6" r="1.8"/><circle cx="425.4" cy="262.2" r="1.8"/><circle cx="435.4" cy="261.6" r="1.8"/><circle cx="421.4" cy="266.0" r="1.8"/><circle cx="426.6" cy="272.6" r="1.8"/><circle cx="433.2" cy="273.8" r="1.8"/><circle cx="441.2" cy="290.4" r="1.8"/><circle cx="439.6" cy="301.2" r="1.8"/><circle cx="436.4" cy="302.6" r="1.8"/></g>
<rect x="76.4" y="9.4" width="466.4" height="347.5" fill="none" stroke="#222" stroke-width="1.3"/>
<path d="M125.75 356.90 v5.0 M197.70 356.90 v5.0 M269.65 356.90 v5.0 M341.60 356.90 v5.0 M413.55 356.90 v5.0 M485.50 356.90 v5.0 M76.40 351.20 h-5.0 M76.40 291.00 h-5.0 M76.40 230.80 h-5.0 M76.40 170.60 h-5.0 M76.40 110.40 h-5.0 M76.40 50.20 h-5.0" stroke="#222" stroke-width="1.0" fill="none"/>
<g font-family="'Liberation Serif', serif" font-size="16" fill="#000" stroke="#000" stroke-width="0.15">
<text transform="translate(126.05 378.4) scale(1 1.09)" text-anchor="middle"><tspan textLength="10.6" lengthAdjust="spacingAndGlyphs">−</tspan>50</text><text transform="translate(198.00 378.4) scale(1 1.09)" text-anchor="middle">0</text><text transform="translate(269.95 378.4) scale(1 1.09)" text-anchor="middle">50</text><text transform="translate(341.90 378.4) scale(1 1.09)" text-anchor="middle">100</text><text transform="translate(413.85 378.4) scale(1 1.09)" text-anchor="middle">150</text><text transform="translate(485.80 378.4) scale(1 1.09)" text-anchor="middle">200</text>
<text transform="translate(66.4 357.10) scale(1 1.09)" text-anchor="end"><tspan textLength="10.6" lengthAdjust="spacingAndGlyphs">−</tspan>100</text><text transform="translate(66.4 296.90) scale(1 1.09)" text-anchor="end"><tspan textLength="10.6" lengthAdjust="spacingAndGlyphs">−</tspan>50</text><text transform="translate(66.4 236.70) scale(1 1.09)" text-anchor="end">0</text><text transform="translate(66.4 176.50) scale(1 1.09)" text-anchor="end">50</text><text transform="translate(66.4 116.30) scale(1 1.09)" text-anchor="end">100</text><text transform="translate(66.4 56.10) scale(1 1.09)" text-anchor="end">150</text>
</g>
<g font-family="'Liberation Serif', serif" font-size="16.75" fill="#000" stroke="#000" stroke-width="0.15">
<text transform="translate(309.7 398.6) scale(1 1.04)" text-anchor="middle">E (m)</text>
<text transform="translate(23.1 183) rotate(-90) scale(1 1.04)" text-anchor="middle">N (m)</text>
</g>
<rect x="410.5" y="15.5" width="126.5" height="73" rx="2" ry="2" fill="#fff" fill-opacity="0.8" stroke="#d0d0d0" stroke-width="1"/>
<path d="M414.8 25.5 h28.2" stroke="#fbd200" stroke-width="1.7" fill="none"/>
<circle cx="429" cy="42.8" r="1.8" fill="#0000ff"/>
<circle cx="429" cy="60" r="1.8" fill="#008000"/>
<circle cx="429" cy="77.3" r="1.8" fill="#ff0000"/>
<g font-family="'IPAGothic', 'Liberation Mono', monospace" font-size="13" fill="#000" stroke="#000" stroke-width="0.3">
<text x="452.5" y="30.4">Reference</text>
<text x="452.5" y="47.699999999999996">GNSS/Raw</text>
<text x="452.5" y="64.9">GNSS/SNR&amp;ELE</text>
<text x="452.5" y="82.2">GNSS/Vision</text>
</g>
</svg>
</body></html>
